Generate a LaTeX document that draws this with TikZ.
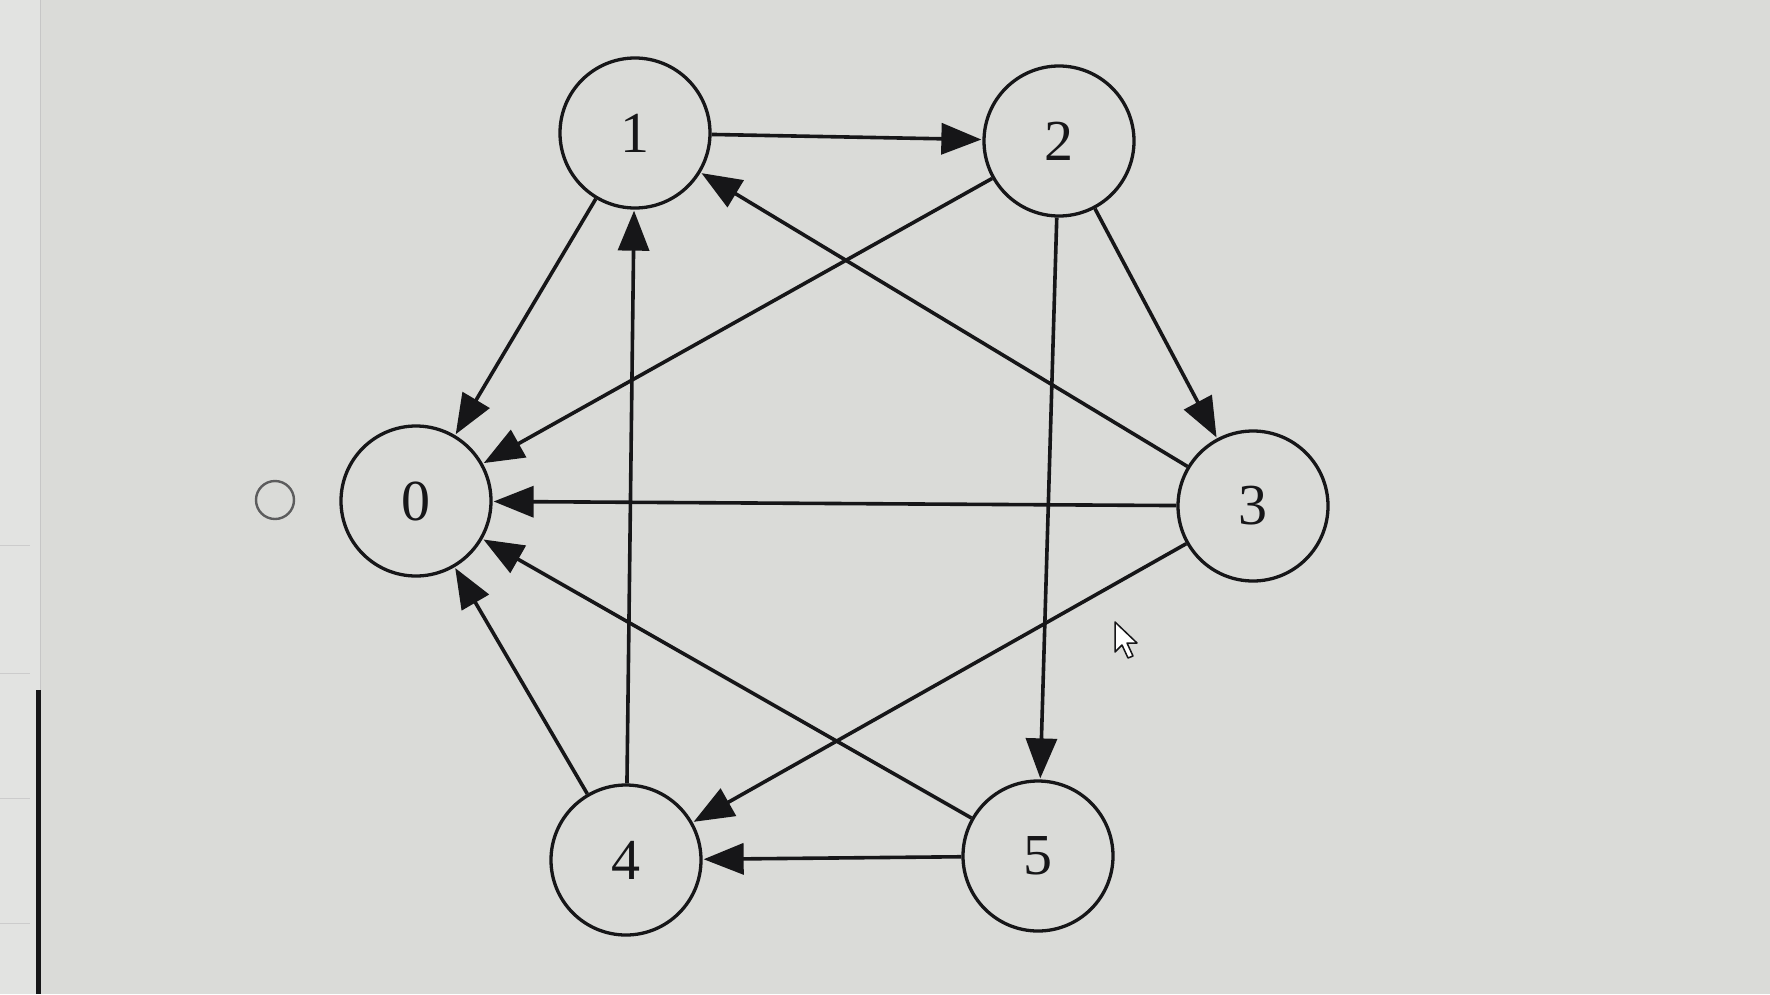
\documentclass[tikz,border=0pt]{standalone}
\usepackage{fontspec}
\setmainfont{Liberation Serif}
\usetikzlibrary{arrows.meta}
\definecolor{bg}{RGB}{218,219,216}
\definecolor{bgl}{RGB}{226,227,225}
\definecolor{ink}{RGB}{22,22,24}
\tikzset{
  vert/.style={circle, draw=ink, line width=3.3pt, minimum size=150pt, inner sep=0pt, font=\fontsize{58}{60}\selectfont, text=ink},
  edge/.style={draw=ink, line width=3.6pt, -{Triangle[length=40pt,width=31pt]}, shorten >=1pt},
}
\begin{document}
\begin{tikzpicture}[x=1pt,y=-1pt]
\useasboundingbox (0,0) rectangle (1770,994);
\fill[bg] (0,0) rectangle (1770,994);
\fill[bgl] (0,0) rectangle (40,994);
\draw[gray!45, line width=1pt] (40,0) -- (40,994);
\foreach \yy in {545,673,798,923} \draw[gray!40, line width=1pt] (0,\yy) -- (30,\yy);
\draw[ink, line width=5pt] (38,690) -- (38,994);
% radio circle
\node[circle, draw=ink!70, line width=2.4pt, minimum size=38pt, inner sep=0pt] (r) at (275,500) {};
% vertices
\node[vert] (n0) at (416,501) {0};
\node[vert] (n1) at (635,133) {1};
\node[vert] (n2) at (1059,141) {2};
\node[vert] (n3) at (1253,506) {3};
\node[vert] (n4) at (626,860) {4};
\node[vert] (n5) at (1038,856) {5};
% edges
\draw[edge] (n1) -- (n2);
\draw[edge] (n1) -- (n0);
\draw[edge] (n2) -- (n0);
\draw[edge] (n2) -- (n3);
\draw[edge] (n2) -- (n5);
\draw[edge] (n3) -- (n1);
\draw[edge] (n3) -- (n0);
\draw[edge] (n3) -- (n4);
\draw[edge] (n4) -- (n1);
\draw[edge] (n4) -- (n0);
\draw[edge] (n5) -- (n0);
\draw[edge] (n5) -- (n4);
% mouse cursor
\draw[ink, fill=white, line width=1.5pt, line join=round]
  (1115,622) -- (1115,652) -- (1122,645) -- (1128,658) -- (1133,656) -- (1127,643) -- (1137,643) -- cycle;
\end{tikzpicture}
\end{document}
